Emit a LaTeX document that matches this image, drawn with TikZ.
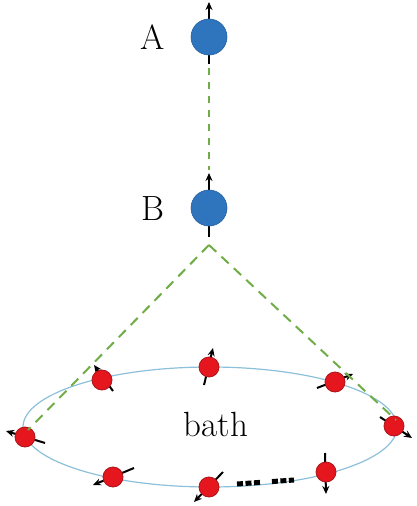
\documentclass[tikz,border=0pt]{standalone}
\usetikzlibrary{arrows.meta,backgrounds}
\definecolor{dgreen}{RGB}{112,173,71}
\definecolor{bathblue}{RGB}{140,192,218}
\definecolor{spinblue}{RGB}{46,117,190}
\definecolor{spinblueD}{RGB}{36,95,160}
\definecolor{spinred}{RGB}{230,22,30}
\definecolor{spinredD}{RGB}{170,20,25}
\tikzset{
  bigspin/.style={circle,minimum size=36pt,inner sep=0pt,fill=spinblue,draw=spinblueD,line width=0.6pt},
  smallspin/.style={circle,minimum size=20pt,inner sep=0pt,fill=spinred,draw=spinredD,line width=0.8pt},
  spinarrow/.style={line width=2pt,-{Stealth[length=8pt,width=7pt]}},
  link/.style={dgreen,line width=2pt,dash pattern=on 10pt off 7pt},
  lbl/.style={font=\fontsize{35}{40}\selectfont,inner sep=0pt},
}
\begin{document}
\begin{tikzpicture}[x=1pt,y=-1pt]
\useasboundingbox (0,0) rectangle (417,506);
% bath ring
\draw[bathblue,line width=1.2pt] (210,427) ellipse [x radius=187,y radius=60];
% central spins
\node[bigspin] (A) at (209,37) {};
\node[bigspin] (B) at (209,208) {};
\node[lbl] (la) at (153,37) {A};
\node[lbl] (lb) at (153,209) {B};
\node[lbl] (bath) at (216,424) {bath};
% bath spins
\node[smallspin] (s1) at (209,367) {};
\node[smallspin] (s2) at (102,380) {};
\node[smallspin] (s3) at (25,437) {};
\node[smallspin] (s4) at (113,477) {};
\node[smallspin] (s5) at (209,487) {};
\node[smallspin] (s6) at (326,472) {};
\node[smallspin] (s7) at (335,382) {};
\node[smallspin] (s8) at (394,426) {};
\coordinate (apex) at (209,245);
\coordinate (endL) at (28,430);
\coordinate (endR) at (396,420);
\begin{scope}[on background layer]
  \draw[spinarrow] ([shift={(0,27)}]A.center) -- ([shift={(0,-35)}]A.center);
  \draw[spinarrow] ([shift={(0,29)}]B.center) -- ([shift={(0,-35)}]B.center);
  \draw[spinarrow] ([shift={(-5,18)}]s1.center) -- ([shift={(4,-19)}]s1.center);
  \draw[spinarrow] ([shift={(11,11)}]s2.center) -- ([shift={(-8,-15)}]s2.center);
  \draw[spinarrow] ([shift={(20,6)}]s3.center) -- ([shift={(-19,-6)}]s3.center);
  \draw[spinarrow] ([shift={(21,-9)}]s4.center) -- ([shift={(-20,8)}]s4.center);
  \draw[spinarrow] ([shift={(14,-15)}]s5.center) -- ([shift={(-15,15)}]s5.center);
  \draw[spinarrow] ([shift={(-1,-19)}]s6.center) -- ([shift={(0,22)}]s6.center);
  \draw[spinarrow] ([shift={(-18,6)}]s7.center) -- ([shift={(18,-8)}]s7.center);
  \draw[spinarrow] ([shift={(-14,-9)}]s8.center) -- ([shift={(18,12)}]s8.center);
\end{scope}
% couplings
\draw[link,dash pattern=on 7pt off 7pt] ([shift={(0,31)}]A.center) -- ([shift={(0,-38)}]B.center);
\draw[link] (apex) -- (endL);
\draw[link] (apex) -- (endR);
% ellipsis dots
\draw[line width=5pt,dash pattern=on 6pt off 2.5pt on 6pt off 2.5pt on 6pt off 12pt on 6pt off 2.5pt on 6pt off 2.5pt on 6pt off 30pt]
  (237,484) -- (294,480);
\end{tikzpicture}
\end{document}
